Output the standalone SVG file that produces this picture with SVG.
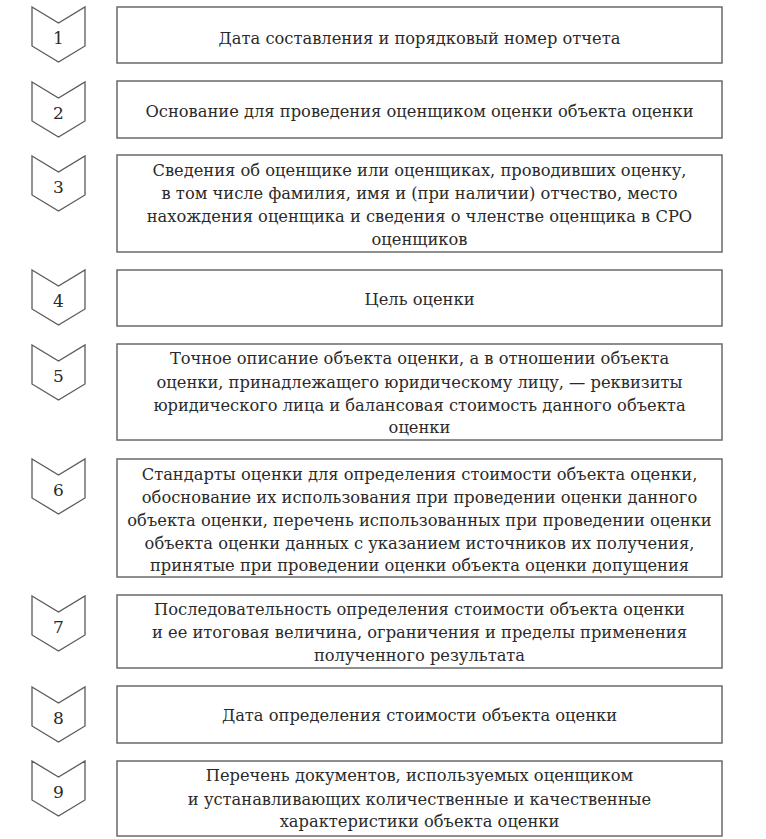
<svg xmlns="http://www.w3.org/2000/svg" width="766" height="839" viewBox="0 0 766 839">
<defs>
<style>
.box{fill:#fff;stroke:#6a6a6a;stroke-width:1.5}
.chev{fill:#fff;stroke:#5a5a5a;stroke-width:1.3;stroke-linejoin:miter}
.t{font-family:"DejaVu Serif","Liberation Serif",serif;font-size:16.3px;fill:#2a2a2a;text-anchor:middle}
.n{font-family:"DejaVu Serif","Liberation Serif",serif;font-size:17px;fill:#2a2a2a;text-anchor:middle}
</style>
<path id="chv" d="M0,0 L26.5,16 L53,0 L53,39 L26.5,55 L0,39 Z"/>
</defs>
<rect width="766" height="839" fill="#fff"/>
<g id="connectors"></g>
<g id="n1">
<use href="#chv" class="chev" x="32" y="7"/>
<text class="n" x="58.5" y="44">1</text>
<rect class="box" x="117" y="7" width="605" height="56"/>
<text class="t" x="419.5" y="44">Дата составления и порядковый номер отчета</text>
</g>
<g id="n2">
<use href="#chv" class="chev" x="32" y="82"/>
<text class="n" x="58.5" y="119">2</text>
<rect class="box" x="117" y="81" width="605" height="57"/>
<text class="t" x="419.5" y="117">Основание для проведения оценщиком оценки объекта оценки</text>
</g>
<g id="n3">
<use href="#chv" class="chev" x="32" y="156"/>
<text class="n" x="58.5" y="193">3</text>
<rect class="box" x="117" y="155" width="605" height="97"/>
<text class="t" x="419.5" y="176">Сведения об оценщике или оценщиках, проводивших оценку,</text>
<text class="t" x="419.5" y="199">в том числе фамилия, имя и (при наличии) отчество, место</text>
<text class="t" x="419.5" y="222">нахождения оценщика и сведения о членстве оценщика в СРО</text>
<text class="t" x="419.5" y="245">оценщиков</text>
</g>
<g id="n4">
<use href="#chv" class="chev" x="32" y="270"/>
<text class="n" x="58.5" y="307">4</text>
<rect class="box" x="117" y="270" width="605" height="56"/>
<text class="t" x="419.5" y="305">Цель оценки</text>
</g>
<g id="n5">
<use href="#chv" class="chev" x="32" y="345"/>
<text class="n" x="58.5" y="382">5</text>
<rect class="box" x="117" y="344" width="605" height="96"/>
<text class="t" x="419.5" y="364">Точное описание объекта оценки, а в отношении объекта</text>
<text class="t" x="419.5" y="388">оценки, принадлежащего юридическому лицу, — реквизиты</text>
<text class="t" x="419.5" y="411">юридического лица и балансовая стоимость данного объекта</text>
<text class="t" x="419.5" y="433">оценки</text>
</g>
<g id="n6">
<use href="#chv" class="chev" x="32" y="459"/>
<text class="n" x="58.5" y="496">6</text>
<rect class="box" x="117" y="459" width="605" height="118"/>
<text class="t" x="419.5" y="480">Стандарты оценки для определения стоимости объекта оценки,</text>
<text class="t" x="419.5" y="503">обоснование их использования при проведении оценки данного</text>
<text class="t" x="419.5" y="526">объекта оценки, перечень использованных при проведении оценки</text>
<text class="t" x="419.5" y="549">объекта оценки данных с указанием источников их получения,</text>
<text class="t" x="419.5" y="571">принятые при проведении оценки объекта оценки допущения</text>
</g>
<g id="n7">
<use href="#chv" class="chev" x="32" y="596"/>
<text class="n" x="58.5" y="633">7</text>
<rect class="box" x="117" y="595" width="605" height="73"/>
<text class="t" x="419.5" y="615">Последовательность определения стоимости объекта оценки</text>
<text class="t" x="419.5" y="638">и ее итоговая величина, ограничения и пределы применения</text>
<text class="t" x="419.5" y="661">полученного результата</text>
</g>
<g id="n8">
<use href="#chv" class="chev" x="32" y="687"/>
<text class="n" x="58.5" y="724">8</text>
<rect class="box" x="117" y="686" width="605" height="57"/>
<text class="t" x="419.5" y="721">Дата определения стоимости объекта оценки</text>
</g>
<g id="n9">
<use href="#chv" class="chev" x="32" y="761"/>
<text class="n" x="58.5" y="798">9</text>
<rect class="box" x="117" y="761" width="605" height="75"/>
<text class="t" x="419.5" y="781">Перечень документов, используемых оценщиком</text>
<text class="t" x="419.5" y="805">и устанавливающих количественные и качественные</text>
<text class="t" x="419.5" y="827">характеристики объекта оценки</text>
</g>
</svg>
